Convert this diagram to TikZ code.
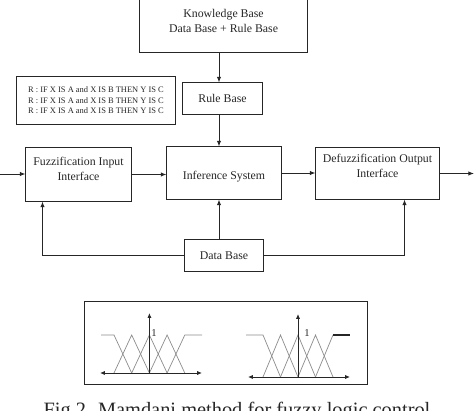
\documentclass[tikz,border=0pt]{standalone}
\usepackage{fontspec}
\setmainfont{Liberation Serif}
\usetikzlibrary{arrows.meta}
\usetikzlibrary{calc}

\begin{document}
\begin{tikzpicture}[x=0.025cm, y=-0.025cm,
	box/.style ={draw=dgrey, line width=0.7pt, inner sep=0pt, align=center, text=dgrey, font=\fontsize{8.4}{11}\selectfont},
	arr/.style ={draw=dgrey, line width=0.7pt, -{Latex[length=1.4mm,width=1.1mm]}},
	mf/.style ={draw=mgrey, line width=0.5pt},
	axisline/.style ={draw=dgrey, line width=0.6pt}]
		% Mamdani fuzzy inference scheme with membership functions

% Colors

\definecolor{dgrey}{rgb}{0.15,0.15,0.15}
\definecolor{mgrey}{rgb}{0.55,0.55,0.55}

\useasboundingbox (0,0) rectangle (474,411);

% Outline
\coordinate (in) at (0,174);
\coordinate (out) at (474,173.5);
\coordinate (axis) at (219,0);

% Nodes
\node[box, minimum width=4.175cm, minimum height=1.55cm] (kb) at (223.5,21) {Knowledge Base\\Data Base + Rule Base};
\node[box, minimum width=1.975cm, minimum height=0.775cm] (rb) at (222.5,98.5) {Rule Base};
\node[box, minimum width=3.95cm, minimum height=1.175cm, align=left, font=\fontsize{6}{7.4}\selectfont] (rules) at (96,100.5) {R : IF X IS A and X IS B THEN Y IS C\\R : IF X IS A and X IS B THEN Y IS C\\R : IF X IS A and X IS B THEN Y IS C};
\node[box, minimum width=2.625cm, minimum height=1.325cm, text depth=0.29cm] (fuzz) at (78.5,174.5) {Fuzzification Input\\Interface};
\node[box, minimum width=2.85cm, minimum height=1.3cm, text height=0.38cm] (inf) at (224,173) {Inference System};
\node[box, minimum width=3.075cm, minimum height=1.275cm, text depth=0.38cm] (defuzz) at (377.5,173.5) {Defuzzification Output\\Interface};
\node[box, minimum width=1.95cm, minimum height=0.775cm] (db) at (224,255.5) {Data Base};
\node[box, minimum width=7.05cm, minimum height=2.05cm] (mfbox) at (226,343) {};

% Connections
\draw[arr] (axis |- kb.south) -- (axis |- rb.north);
\draw[arr] (axis |- rb.south) -- (axis |- inf.north);
\draw[arr] (axis |- db.north) -- (axis |- inf.south);
\draw[arr] (in) -- (in -| fuzz.west);
\draw[arr] (fuzz.east) -- (fuzz.east -| inf.west);
\draw[arr] (inf.east) -- (inf.east -| defuzz.west);
\draw[arr] (defuzz.east) -- (defuzz.east -| out);
\draw[arr] (db.west) -| ([xshift=0.425cm]fuzz.south west);
\draw[arr] (db.east) -| ([xshift=-0.875cm]defuzz.south east);

% Membership functions, left
\draw[mf] (101,335) -- (114,335) -- (131.7,373);
\foreach \p in {131.7,149.4,167.1}
	\draw[mf] ({\p-17.7},373) -- (\p,335) -- ({\p+17.7},373);
\draw[mf] (167.1,373) -- (184.8,335) -- (202,335);
\draw[axisline, {Latex[length=1.2mm,width=1mm]}-{Latex[length=1.2mm,width=1mm]}] (100,373) -- (202,373);
\draw[axisline, -{Latex[length=1.2mm,width=1mm]}] (149.4,373) -- (149.4,313);
\node[text=dgrey, font=\fontsize{7.5}{9}\selectfont] (oneL) at (154,333) {1};

% Membership functions, right
\draw[mf] (246,335) -- (263,335) -- (280.5,377);
\foreach \p in {280.5,298,315.5}
	\draw[mf] ({\p-17.5},377) -- (\p,335) -- ({\p+17.5},377);
\draw[mf] (315.5,377) -- (333,335);
\draw[axisline, line width=0.9pt] (333,335) -- (350,335);
\draw[axisline, {Latex[length=1.2mm,width=1mm]}-{Latex[length=1.2mm,width=1mm]}] (248,377) -- (350,377);
\draw[axisline, -{Latex[length=1.2mm,width=1mm]}] (298,377) -- (298,314);
\node[text=dgrey, font=\fontsize{7.5}{9}\selectfont] (oneR) at (307,333) {1};

% Caption
\node[anchor=base, text=dgrey, font=\fontsize{14.5}{17}\selectfont] (cap) at (237,416.5) {Fig.2. Mamdani method for fuzzy logic control};
	\end{tikzpicture}
\end{document}
